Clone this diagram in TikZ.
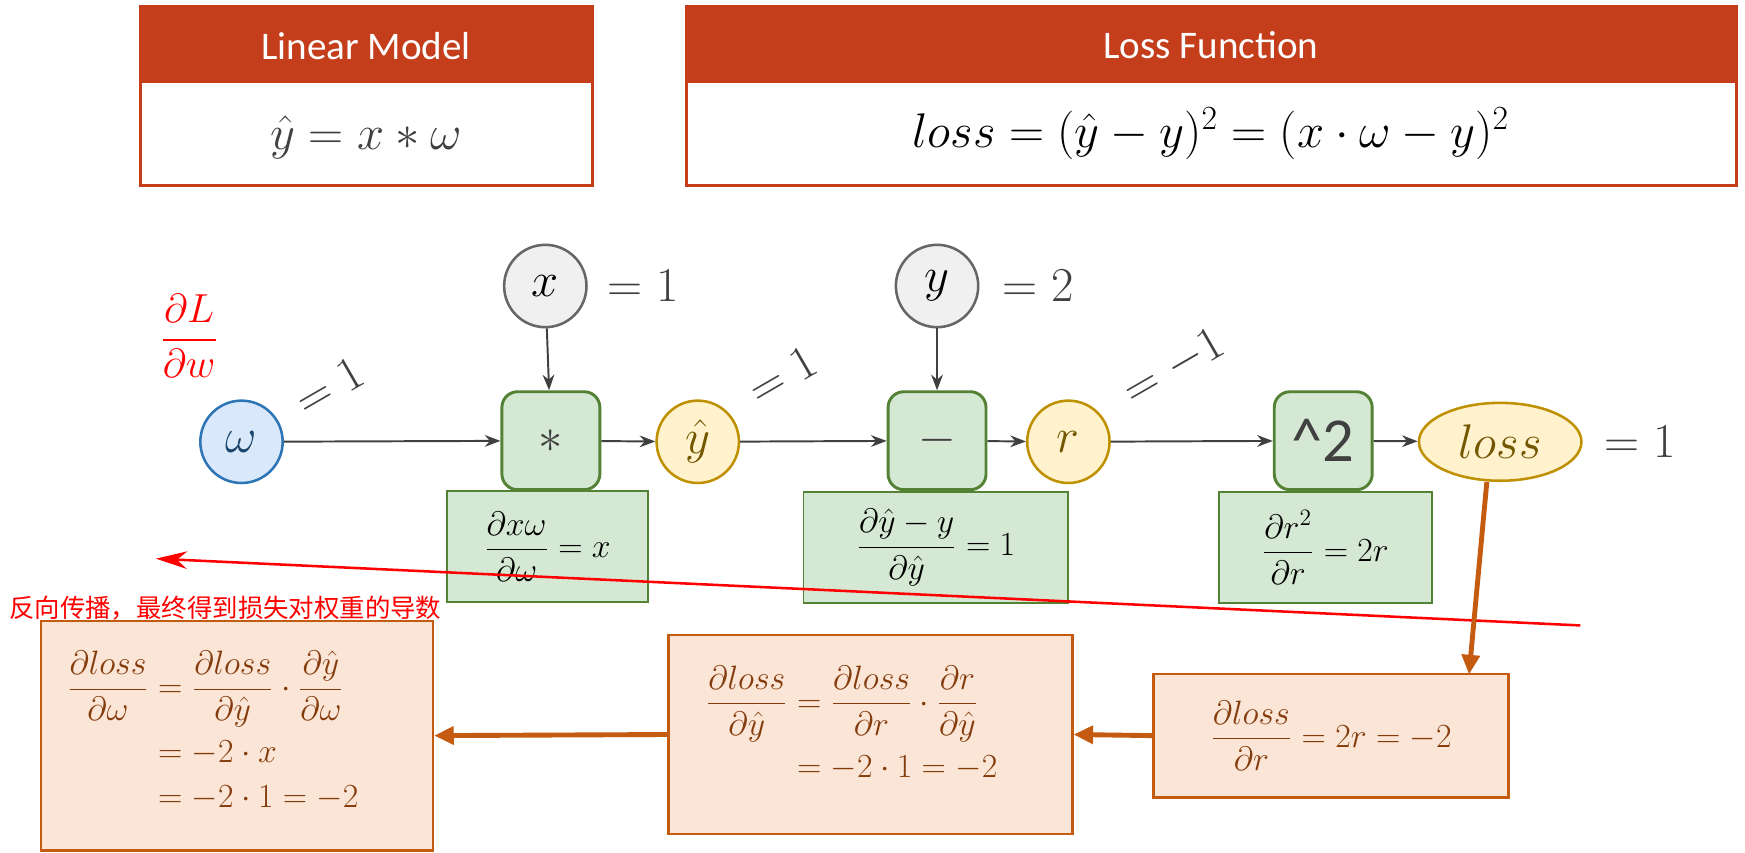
\documentclass[tikz,border=0pt]{standalone}
\usepackage{fontspec}
\usepackage{amsmath}
\setmainfont{Carlito}
\newfontfamily\cjk{Noto Sans CJK SC}
\usetikzlibrary{shapes.geometric,arrows.meta}
\definecolor{hdr}{HTML}{C43E1C}
\definecolor{gfill}{HTML}{D5E8D4}
\definecolor{gline}{HTML}{548235}
\definecolor{ofill}{HTML}{FBE5D6}
\definecolor{oline}{HTML}{C55A11}
\definecolor{otext}{HTML}{843C0C}
\definecolor{yfill}{HTML}{FFF2CC}
\definecolor{yline}{HTML}{BF9000}
\definecolor{bfill}{HTML}{DAE8FC}
\definecolor{bline}{HTML}{2E75B6}
\definecolor{dk}{HTML}{404040}
\newlength{\pxu}\setlength{\pxu}{0.02cm}
\tikzset{
 frame/.style={draw=hdr,line width=1.5pt},
 circ/.style={circle,minimum size=74\pxu,line width=1.3pt,inner sep=0pt,font=\fontsize{34}{38}\selectfont},
 var/.style={circ,draw=gray!80!black,fill=gray!12},
 hid/.style={circ,draw=yline,fill=yfill,text=yline!60!black},
 op/.style={draw=gline,fill=gfill,line width=1.5pt,rounded corners=8pt,minimum width=88\pxu,minimum height=88\pxu,font=\fontsize{32}{36}\selectfont,text=dk},
 gbox/.style={draw=gline,fill=gfill,line width=1pt,font=\fontsize{18}{21}\selectfont},
 obox/.style={draw=oline,fill=ofill,line width=1.3pt,font=\fontsize{17}{20}\selectfont,text=otext},
 otxt/.style={text=otext,font=\fontsize{17}{20}\selectfont,anchor=north west,inner sep=0pt},
 arr/.style={-{Stealth[length=8pt,width=6pt]},dk,line width=1pt},
 oarr/.style={-{Triangle[length=10pt,width=9pt]},oline,line width=2.5pt},
 eq/.style={font=\fontsize{34}{38}\selectfont,text=dk},
}
\begin{document}
\begin{tikzpicture}[x=0.02cm,y=-0.02cm]
\useasboundingbox (0,0) rectangle (1568,766);
% header boxes
\draw[frame] (126,6) rectangle (532,167);
\fill[hdr] (126,6) rectangle (532,75);
\node[text=white,font=\fontsize{20}{24}\selectfont] (lmh) at (329,41) {Linear Model};
\node[font=\fontsize{27}{31}\selectfont,text=dk] (lmf) at (329,123) {$\hat{y} = x * \omega$};
\draw[frame] (617,6) rectangle (1560,167);
\fill[hdr] (617,6) rectangle (1560,75);
\node[text=white,font=\fontsize{20}{24}\selectfont] (lfh) at (1088,41) {Loss Function};
\node[font=\fontsize{27}{31}\selectfont,text=black] (lff) at (1088,120) {$loss = (\hat{y}-y)^2 = (x\cdot\omega - y)^2$};
% handwritten
\node[text=red,font=\fontsize{22}{26}\selectfont] (dl) at (170,302) {$\dfrac{\partial L}{\partial w}$};
% nodes
\node[circ,draw=bline,fill=bfill,text=bline!60!black] (w) at (217,397) {$\omega$};
\node[var] (x) at (490,257) {$x$};
\node[var] (y) at (842,257) {$y$};
\node[op] (mul) at (495,396) {$*$};
\node[hid] (yh) at (627,397) {$\hat{y}$};
\node[op] (sub) at (842,396) {$-$};
\node[hid] (r) at (960,397) {$r$};
\node[op] (sq) at (1189,396) {\^{}2};
\node[ellipse,draw=yline,fill=yfill,line width=1.3pt,minimum width=146\pxu,minimum height=70\pxu,inner sep=0pt,font=\fontsize{34}{38}\selectfont,text=yline!60!black] (loss) at (1348,397) {$loss$};
% value labels
\node[eq,rotate=30] (wv) at (296,347) {$=1$};
\node[eq] (xv) at (578,257) {$=1$};
\node[eq,rotate=30] (yhv) at (703,337) {$=1$};
\node[eq] (yv) at (933,257) {$=2$};
\node[eq,rotate=30] (rv) at (1055,330) {$=-1$};
\node[eq] (lv) at (1474,397) {$=1$};
% connectors
\draw[arr] (w) -- (mul);
\draw[arr] (x) -- (mul);
\draw[arr] (mul) -- (yh);
\draw[arr] (yh) -- (sub);
\draw[arr] (y) -- (sub);
\draw[arr] (sub) -- (r);
\draw[arr] (r) -- (sq);
\draw[arr] (sq) -- (loss);
% green derivative boxes
\node[gbox,minimum width=181\pxu,minimum height=100\pxu] (g1) at (492,491) {$\dfrac{\partial x\omega}{\partial\omega}=x$};
\node[gbox,minimum width=238\pxu,minimum height=99\pxu] (g2) at (841,492) {$\dfrac{\partial\hat{y}-y}{\partial\hat{y}}=1$};
\node[gbox,minimum width=192\pxu,minimum height=99\pxu] (g3) at (1191,492) {$\dfrac{\partial r^2}{\partial r}=2r$};
% red annotation
\coordinate (ra) at (1420,562);
\coordinate (rb) at (140,502);
\draw[red,line width=1.3pt,-{Stealth[length=16pt,width=9pt]}] (ra) -- (rb);
\node[anchor=west,text=red,font=\cjk\fontsize{13}{15}\selectfont,inner sep=0pt] (cn) at (8,546) {反向传播，最终得到损失对权重的导数};
% orange boxes
\node[obox,minimum width=352\pxu,minimum height=206\pxu] (o1) at (213,661) {};
\node[otxt] (o1t) at (60,585) {$\begin{aligned}\frac{\partial loss}{\partial\omega}&=\frac{\partial loss}{\partial\hat{y}}\cdot\frac{\partial\hat{y}}{\partial\omega}\\&=-2\cdot x\\&=-2\cdot 1=-2\end{aligned}$};
\node[obox,minimum width=363\pxu,minimum height=179\pxu] (o2) at (782,660) {};
\node[otxt] (o2t) at (634,598) {$\begin{aligned}\frac{\partial loss}{\partial\hat{y}}&=\frac{\partial loss}{\partial r}\cdot\frac{\partial r}{\partial\hat{y}}\\&=-2\cdot 1=-2\end{aligned}$};
\node[obox,minimum width=319\pxu,minimum height=111\pxu] (o3) at (1196,661) {$\dfrac{\partial loss}{\partial r}=2r=-2$};
\coordinate (ot) at (1320,606);
\draw[oarr] ([xshift=-12\pxu]loss.south) -- (ot);
\draw[oarr] (o3.west) -- (o2.east);
\draw[oarr] (o2.west) -- (o1.east);
\end{tikzpicture}
\end{document}
